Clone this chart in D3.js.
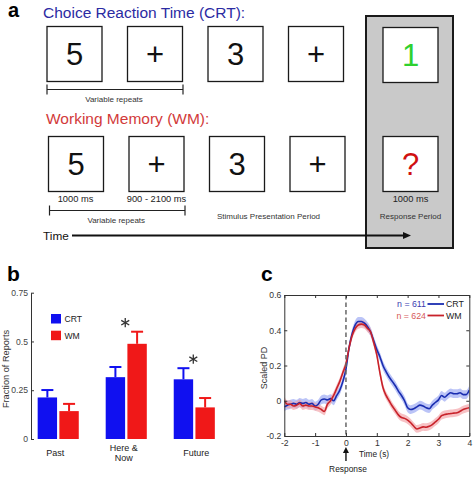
<!DOCTYPE html>
<html>
<head>
<meta charset="utf-8">
<script src="https://cdn.jsdelivr.net/npm/d3@7/dist/d3.min.js"></script>
<style>
  html, body { margin: 0; padding: 0; background: #fff; }
  svg { display: block; font-family: "Liberation Sans", Arial, Helvetica, sans-serif; }
</style>
</head>
<body>
<svg id="fig" width="474" height="477"></svg>
<script>
// ---------- Panel a: task schematic content ----------
const crtTitle = "Choice Reaction Time (CRT):";
const wmTitle = "Working Memory (WM):";
const stimulusSequence = ["5", "+", "3", "+"];
const crtResponse = "1";
const wmResponse = "?";
const durationLabels = ["1000 ms", "900 - 2100 ms"];
const responseDuration = "1000 ms";
const periodLabels = ["Stimulus Presentation Period", "Response Period"];

// ---------- Panel b: fraction of reports ----------
const categories = ["Past", "Here & Now", "Future"];
const crtValues = [0.213, 0.317, 0.306];
const crtErrors = [0.038, 0.052, 0.057];
const wmValues = [0.143, 0.488, 0.162];
const wmErrors = [0.037, 0.062, 0.048];
const significant = [false, true, true];
const barTicks = [0, 0.25, 0.5, 0.75];

// ---------- Panel c: scaled PD time course ----------
const timeSec = [-2.0,-1.9,-1.8,-1.7,-1.6,-1.5,-1.4,-1.3,-1.2,-1.1,-1.0,-0.9,-0.8,-0.7,-0.6,-0.5,-0.4,-0.3,-0.2,-0.1,
  0.0,0.1,0.2,0.3,0.4,0.5,0.6,0.7,0.8,0.9,1.0,1.1,1.2,1.3,1.4,1.5,1.6,1.7,1.8,1.9,
  2.0,2.1,2.2,2.3,2.4,2.5,2.6,2.7,2.8,2.9,3.0,3.1,3.2,3.3,3.4,3.5,3.6,3.7,3.8,3.9,4.0];
const crtPD = [-0.035,-0.025,-0.02,-0.015,-0.02,-0.01,-0.015,-0.01,-0.02,-0.015,-0.03,-0.02,0.005,0.01,0.005,0.012,0.0,0.03,0.06,0.11,
  0.18,0.30,0.38,0.43,0.45,0.45,0.44,0.42,0.39,0.34,0.29,0.25,0.20,0.165,0.135,0.11,0.085,0.055,0.03,0.0,
  -0.04,-0.05,-0.045,-0.035,-0.025,-0.03,-0.04,-0.045,-0.025,-0.01,0.005,0.03,0.02,0.035,0.045,0.04,0.04,0.045,0.035,0.035,0.06];
const wmPD = [0.0,-0.02,-0.02,-0.03,-0.025,-0.015,-0.03,-0.025,-0.03,-0.03,-0.035,-0.04,-0.05,-0.06,-0.02,0.0,0.03,0.07,0.11,0.16,
  0.21,0.30,0.37,0.41,0.43,0.435,0.43,0.41,0.39,0.33,0.26,0.16,0.075,0.03,0.0,-0.03,-0.055,-0.08,-0.095,-0.10,
  -0.11,-0.125,-0.145,-0.16,-0.155,-0.148,-0.15,-0.145,-0.135,-0.12,-0.105,-0.085,-0.078,-0.075,-0.072,-0.07,-0.068,-0.06,-0.05,-0.044,-0.04];
const crtSem = 0.025;
const wmSem = 0.022;
const pdXTicks = [-2, -1, 0, 1, 2, 3, 4];
const pdYTicks = [-0.2, 0, 0.2, 0.4, 0.6];
const legendLabels = [{n: "n = 611", name: "CRT"}, {n: "n = 624", name: "WM"}];

// ---------- colours ----------
const C = {
  crtTitle: "#2b2ba3", wmTitle: "#d23a3a",
  barBlue: "#1010f0", barRed: "#f01818",
  lineBlue: "#1a2db0", lineRed: "#c8222a",
  bandBlue: "#8e9cf2", bandRed: "#f2a0a4",
  green: "#2fd02f", qRed: "#d01010",
  axis: "#333", text: "#222"
};
const FONT = "Liberation Sans, Arial, sans-serif";

const svg = d3.select("#fig");

// ================= Panel a =================
const A = svg.append("g");
A.append("text").attr("x", 8).attr("y", 17).attr("font-size", 20).attr("font-weight", "bold").text("a");

// response period grey panel
A.append("rect").attr("x", 366).attr("y", 16).attr("width", 87).attr("height", 232)
  .attr("fill", "#c9c9c9").attr("stroke", "#1a1a1a").attr("stroke-width", 2);

A.append("text").attr("x", 43).attr("y", 18).attr("font-size", 15.5).attr("fill", C.crtTitle).text(crtTitle);
A.append("text").attr("x", 46).attr("y", 124).attr("font-size", 15.5).attr("fill", C.wmTitle).text(wmTitle);

const boxX = d3.scaleLinear().domain([0, 1]).range([47, 127.5]);
const boxW = 55;
function drawRow(y0, dx) {
  stimulusSequence.forEach((s, i) => {
    const x0 = boxX(i) + dx;
    A.append("rect").attr("x", x0).attr("y", y0).attr("width", boxW).attr("height", boxW)
      .attr("fill", "#fff").attr("stroke", "#1a1a1a").attr("stroke-width", 1.3);
    A.append("text").attr("x", x0 + boxW / 2).attr("y", y0 + boxW / 2 + 11).attr("text-anchor", "middle")
      .attr("font-size", 31).attr("fill", "#111").text(s);
  });
}
drawRow(26.5, 0);
drawRow(136.5, 1.5);

function responseBox(y0, label, color) {
  A.append("rect").attr("x", 383).attr("y", y0).attr("width", boxW).attr("height", boxW)
    .attr("fill", "#fff").attr("stroke", "#1a1a1a").attr("stroke-width", 1.3);
  A.append("text").attr("x", 383 + boxW / 2).attr("y", y0 + boxW / 2 + 11).attr("text-anchor", "middle")
    .attr("font-size", 31).attr("fill", color).text(label);
}
responseBox(27.5, crtResponse, C.green);
responseBox(136.5, wmResponse, C.qRed);

function bracket(x1, x2, y, label, ly) {
  A.append("line").attr("x1", x1).attr("x2", x2).attr("y1", y).attr("y2", y).attr("stroke", "#222").attr("stroke-width", 1.2);
  [x1, x2].forEach(x => A.append("line").attr("x1", x).attr("x2", x).attr("y1", y - 5).attr("y2", y + 5)
    .attr("stroke", "#222").attr("stroke-width", 1.2));
  A.append("text").attr("x", (x1 + x2) / 2 - 1).attr("y", ly).attr("text-anchor", "middle")
    .attr("font-size", 8).attr("fill", "#333").text(label);
}
bracket(47, 183, 89.5, "Variable repeats", 102);
bracket(49.5, 185, 210.5, "Variable repeats", 222.5);

A.append("text").attr("x", 75.5).attr("y", 202).attr("text-anchor", "middle").attr("font-size", 9.3).attr("fill", "#222").text(durationLabels[0]);
A.append("text").attr("x", 156.5).attr("y", 202).attr("text-anchor", "middle").attr("font-size", 9.3).attr("fill", "#222").text(durationLabels[1]);
A.append("text").attr("x", 410.5).attr("y", 202).attr("text-anchor", "middle").attr("font-size", 9.3).attr("fill", "#222").text(responseDuration);
A.append("text").attr("x", 268.5).attr("y", 219).attr("text-anchor", "middle").attr("font-size", 8).attr("fill", "#333").text(periodLabels[0]);
A.append("text").attr("x", 410.5).attr("y", 219).attr("text-anchor", "middle").attr("font-size", 8).attr("fill", "#333").text(periodLabels[1]);

A.append("text").attr("x", 43).attr("y", 239.5).attr("font-size", 11.8).attr("fill", "#111").text("Time");
A.append("line").attr("x1", 72).attr("x2", 404).attr("y1", 235.5).attr("y2", 235.5).attr("stroke", "#111").attr("stroke-width", 2);
A.append("path").attr("d", "M411,235.5 L403,232 L403,239 Z").attr("fill", "#111");

// ================= Panel b =================
const B = svg.append("g");
B.append("text").attr("x", 7).attr("y", 281).attr("font-size", 21).attr("font-weight", "bold").text("b");

const bx = d3.scaleLinear().domain([0.6, 3.4]).range([31, 221.5]);
const by = d3.scaleLinear().domain([0, 0.75]).range([439, 292.7]);
const barW = 19.4, barGap = 2.3;

const yAxisB = d3.axisLeft(by).tickValues(barTicks).tickFormat(d => d === 0 ? "0" : String(d)).tickSizeInner(-3).tickSizeOuter(0).tickPadding(3);
const gyb = B.append("g").attr("transform", "translate(31,0)").call(yAxisB);
gyb.select(".domain").attr("stroke", C.axis).attr("stroke-width", 1);
gyb.selectAll(".tick line").attr("stroke", C.axis);
gyb.selectAll(".tick text").attr("font-size", 8.6).attr("fill", "#444").attr("font-family", FONT);

B.append("text").attr("transform", "translate(8.5,369) rotate(-90)").attr("text-anchor", "middle")
  .attr("font-size", 9.2).attr("fill", "#333").text("Fraction of Reports");

const series = [
  {vals: crtValues, errs: crtErrors, color: C.barBlue, off: -(barW + barGap) / 2},
  {vals: wmValues, errs: wmErrors, color: C.barRed, off: (barW + barGap) / 2}
];
series.forEach(s => {
  categories.forEach((c, i) => {
    const cx = bx(i + 1) + s.off;
    B.append("line").attr("x1", cx).attr("x2", cx).attr("y1", by(s.vals[i])).attr("y2", by(s.vals[i] + s.errs[i]))
      .attr("stroke", s.color).attr("stroke-width", 2);
    B.append("line").attr("x1", cx - 6).attr("x2", cx + 6).attr("y1", by(s.vals[i] + s.errs[i])).attr("y2", by(s.vals[i] + s.errs[i]))
      .attr("stroke", s.color).attr("stroke-width", 2);
    B.append("rect").attr("x", cx - barW / 2).attr("y", by(s.vals[i])).attr("width", barW)
      .attr("height", by(0) - by(s.vals[i])).attr("fill", s.color);
  });
});

categories.forEach((c, i) => {
  const cx = bx(i + 1);
  if (c === "Here & Now") {
    B.append("text").attr("x", cx - 2.5).attr("y", 451).attr("text-anchor", "middle").attr("font-size", 9).attr("fill", "#222").text("Here &");
    B.append("text").attr("x", cx - 2.5).attr("y", 461).attr("text-anchor", "middle").attr("font-size", 9).attr("fill", "#222").text("Now");
  } else {
    B.append("text").attr("x", cx + (i === 0 ? -3 : 2)).attr("y", 456).attr("text-anchor", "middle").attr("font-size", 9).attr("fill", "#222").text(c);
  }
  if (significant[i]) {
    const top = Math.max(crtValues[i] + crtErrors[i], wmValues[i] + wmErrors[i]);
    const ax = cx - 1, ay = by(top) - 9, r = 4.6;
    const g = B.append("g").attr("stroke", "#333").attr("stroke-width", 1.3);
    [90, 30, -30].forEach(a => {
      const rad = a * Math.PI / 180;
      g.append("line").attr("x1", ax - r * Math.cos(rad)).attr("y1", ay - r * Math.sin(rad))
        .attr("x2", ax + r * Math.cos(rad)).attr("y2", ay + r * Math.sin(rad));
    });
  }
});
// legend
[{name: "CRT", color: C.barBlue}, {name: "WM", color: C.barRed}].forEach((d, i) => {
  B.append("rect").attr("x", 51).attr("y", 314 + i * 16.7).attr("width", 10).attr("height", 9.5).attr("fill", d.color);
  B.append("text").attr("x", 64.5).attr("y", 322 + i * 16.7).attr("font-size", 8.6).attr("fill", "#222").text(d.name);
});

// ================= Panel c =================
const P = svg.append("g");
P.append("text").attr("x", 261).attr("y", 281).attr("font-size", 21).attr("font-weight", "bold").text("c");

const cx0 = 284.3, cx1 = 469.3, cy0 = 295, cy1 = 436;
const tx = d3.scaleLinear().domain([-2, 4]).range([cx0, cx1]);
const ty = d3.scaleLinear().domain([-0.2, 0.6]).range([cy1, cy0]);

P.append("defs").append("clipPath").attr("id", "plotclip").append("rect")
  .attr("x", cx0).attr("y", cy0).attr("width", cx1 - cx0).attr("height", cy1 - cy0);
const plot = P.append("g").attr("clip-path", "url(#plotclip)");

const pts = timeSec.map((t, i) => ({t, crt: crtPD[i], wm: wmPD[i]}));
const area = (key, sem) => d3.area().x(d => tx(d.t)).y0(d => ty(d[key] - sem)).y1(d => ty(d[key] + sem)).curve(d3.curveMonotoneX);
const line = key => d3.line().x(d => tx(d.t)).y(d => ty(d[key])).curve(d3.curveMonotoneX);

plot.append("path").datum(pts).attr("d", area("crt", crtSem)).attr("fill", C.bandBlue).attr("opacity", 0.6);
plot.append("path").datum(pts).attr("d", area("wm", wmSem)).attr("fill", C.bandRed).attr("opacity", 0.65);
plot.append("path").datum(pts).attr("d", line("crt")).attr("fill", "none").attr("stroke", C.lineBlue).attr("stroke-width", 1.6);
plot.append("path").datum(pts).attr("d", line("wm")).attr("fill", "none").attr("stroke", C.lineRed).attr("stroke-width", 1.6);

// dashed response line
P.append("line").attr("x1", tx(0)).attr("x2", tx(0)).attr("y1", cy0).attr("y2", cy1)
  .attr("stroke", "#666").attr("stroke-width", 1.5).attr("stroke-dasharray", "4.5,3");

// axes (box with inward ticks)
const gxb = P.append("g").attr("transform", `translate(0,${cy1})`)
  .call(d3.axisBottom(tx).tickValues(pdXTicks).tickFormat(d => String(d)).tickSizeInner(-3).tickSizeOuter(0).tickPadding(4));
const gxt = P.append("g").attr("transform", `translate(0,${cy0})`)
  .call(d3.axisTop(tx).tickValues(pdXTicks).tickFormat("").tickSizeInner(-3).tickSizeOuter(0));
const gyl = P.append("g").attr("transform", `translate(${cx0},0)`)
  .call(d3.axisLeft(ty).tickValues(pdYTicks).tickFormat(d => d === 0 ? "0" : d3.format(".1f")(d).replace("−", "-")).tickSizeInner(-3).tickSizeOuter(0).tickPadding(3));
const gyr = P.append("g").attr("transform", `translate(${cx1},0)`)
  .call(d3.axisRight(ty).tickValues(pdYTicks).tickFormat("").tickSizeInner(-3).tickSizeOuter(0));
[gxb, gxt, gyl, gyr].forEach(g => {
  g.select(".domain").attr("stroke", C.axis).attr("stroke-width", 1);
  g.selectAll(".tick line").attr("stroke", C.axis);
  g.selectAll(".tick text").attr("font-size", 8.6).attr("fill", "#333").attr("font-family", FONT);
});

P.append("text").attr("transform", "translate(266.5,368) rotate(-90)").attr("text-anchor", "middle")
  .attr("font-size", 9).attr("fill", "#333").text("Scaled PD");
P.append("text").attr("x", 374).attr("y", 457).attr("text-anchor", "middle").attr("font-size", 8.3).attr("fill", "#222").text("Time (s)");
// response arrow
P.append("line").attr("x1", tx(0)).attr("x2", tx(0)).attr("y1", 461).attr("y2", 452).attr("stroke", "#111").attr("stroke-width", 1.4);
P.append("path").attr("d", `M${tx(0)},447 L${tx(0) - 3},453 L${tx(0) + 3},453 Z`).attr("fill", "#111");
P.append("text").attr("x", tx(0) + 2).attr("y", 471.5).attr("text-anchor", "middle").attr("font-size", 8.4).attr("fill", "#222").text("Response");

// legend
const legColors = [{txt: "#3b3bb0", ln: C.lineBlue}, {txt: "#d65a5a", ln: C.lineRed}];
legendLabels.forEach((d, i) => {
  const y = 307 + i * 11.5;
  P.append("text").attr("x", 426).attr("y", y).attr("text-anchor", "end").attr("font-size", 8.8).attr("fill", legColors[i].txt).text(d.n);
  P.append("line").attr("x1", 427.5).attr("x2", 444).attr("y1", y - 3).attr("y2", y - 3).attr("stroke", legColors[i].ln).attr("stroke-width", 1.8);
  P.append("text").attr("x", 446).attr("y", y).attr("font-size", 8.8).attr("fill", "#222").text(d.name);
});
</script>
</body>
</html>
